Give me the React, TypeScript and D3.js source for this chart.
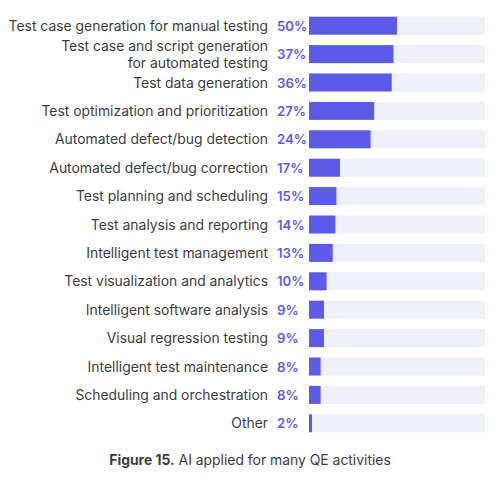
import * as d3 from 'd3';

const categories = [
  'Test case generation for manual testing',
  'Test case and script generation\nfor automated testing',
  'Test data generation',
  'Test optimization and prioritization',
  'Automated defect/bug detection',
  'Automated defect/bug correction',
  'Test planning and scheduling',
  'Test analysis and reporting',
  'Intelligent test management',
  'Test visualization and analytics',
  'Intelligent software analysis',
  'Visual regression testing',
  'Intelligent test maintenance',
  'Scheduling and orchestration',
  'Other',
];

// printed percentages
const values = [50, 37, 36, 27, 24, 17, 15, 14, 13, 10, 9, 9, 8, 8, 2];

// bar lengths as drawn in the figure (share of the 0–100 track)
const barValues = [50, 48, 47, 37, 35, 17.6, 15.6, 15, 13.5, 10, 8.5, 8.5, 6.6, 6.6, 1.7];

const W = 500;
const H = 479;
const BAR = '#5b5be8';
const TRACK = '#eef0fa';
const TEXT = '#3d3d3d';
const FONT = 'Inter, "Noto Sans", sans-serif';

export default function App() {
  const xScale = d3.scaleLinear().domain([0, 100]).range([309, 485]);
  const yScale = d3.scaleBand<number>()
    .domain(d3.range(categories.length))
    .range([16.7, 432.3])
    .paddingInner(0.366)
    .paddingOuter(0);
  const bw = yScale.bandwidth();

  return (
    <svg
      width={W}
      height={H}
      style={{ position: 'absolute', left: 0, top: 0, background: '#fff' }}
      fontFamily={FONT}
    >
      {categories.map((c, i) => {
        const y0 = yScale(i)!;
        const cy = y0 + bw / 2;
        const lines = c.split('\n');
        return (
          <g key={i}>
            {lines.map((ln, j) => (
              <text
                key={j}
                x={268}
                y={cy + (j - (lines.length - 1) / 2) * 17}
                dy="0.36em"
                textAnchor="end"
                fontSize={13.9}
                fill={TEXT}
              >
                {ln}
              </text>
            ))}
            <text
              x={277}
              y={cy}
              dy="0.38em"
              fontSize={13.2}
              fontWeight={600}
              fill={BAR}
            >
              {values[i]}%
            </text>
            <rect x={xScale(0)} y={y0} width={xScale(100) - xScale(0)} height={bw} fill={TRACK} />
            <rect x={xScale(0)} y={y0} width={xScale(barValues[i]) - xScale(0)} height={bw} fill={BAR} />
          </g>
        );
      })}
      <text x={250} y={459.5} dy="0.36em" textAnchor="middle" fontSize={13.9} fill={TEXT}>
        <tspan fontWeight={700}>Figure 15.</tspan> AI applied for many QE activities
      </text>
    </svg>
  );
}
